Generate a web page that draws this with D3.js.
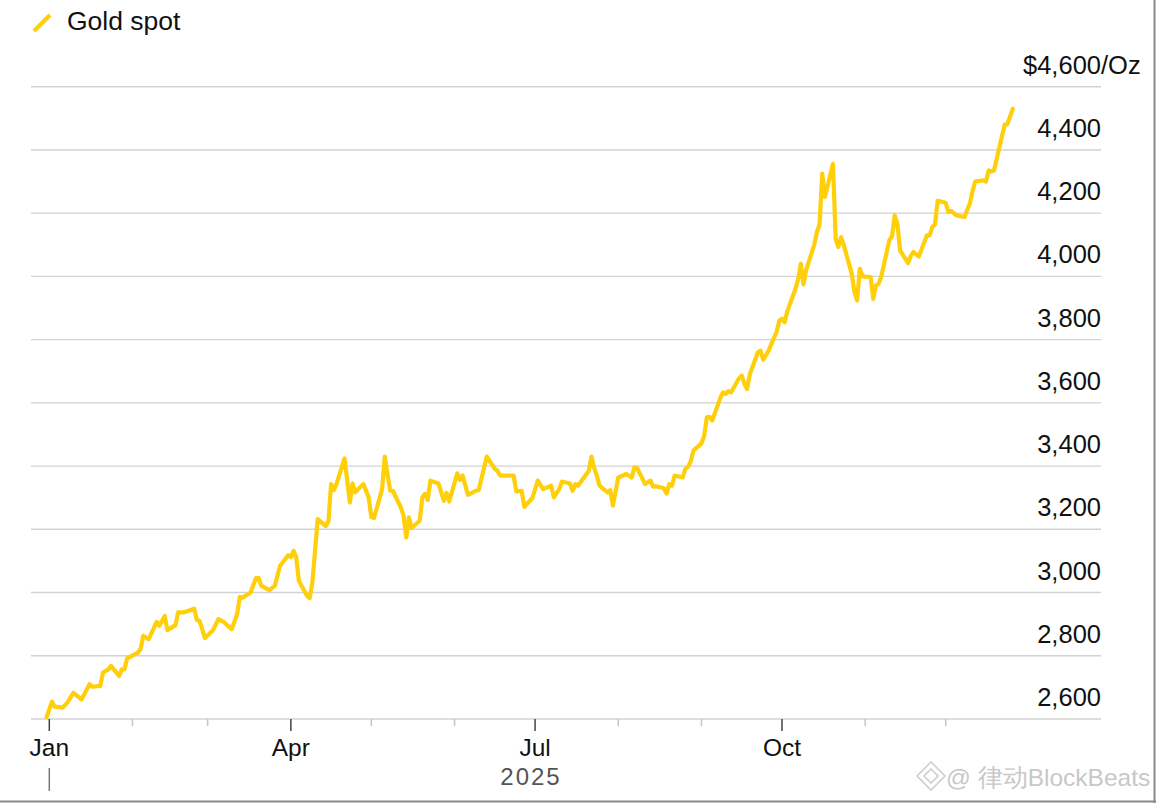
<!DOCTYPE html>
<html><head><meta charset="utf-8">
<script src="https://cdn.jsdelivr.net/npm/d3@7"></script>
<style>
body{margin:0;background:#fff}
svg{display:block}
text{font-family:"Liberation Sans",Arial,Helvetica,sans-serif}
</style>
</head><body>
<svg id="chart" width="1156" height="803"></svg>
<script>
const seriesName = "Gold spot";
const dates = [
"2024-12-31","2025-01-02","2025-01-03","2025-01-06","2025-01-08","2025-01-10","2025-01-13","2025-01-16","2025-01-17","2025-01-20",
"2025-01-21","2025-01-23","2025-01-24","2025-01-27","2025-01-28","2025-01-29","2025-01-30","2025-02-03","2025-02-04","2025-02-05",
"2025-02-07","2025-02-10","2025-02-11","2025-02-13","2025-02-14","2025-02-17","2025-02-18","2025-02-20","2025-02-24","2025-02-25",
"2025-02-26","2025-02-28","2025-03-03","2025-03-05","2025-03-07","2025-03-10","2025-03-12","2025-03-13","2025-03-14","2025-03-17",
"2025-03-19","2025-03-20","2025-03-21","2025-03-24","2025-03-26","2025-03-28","2025-03-31","2025-04-01","2025-04-02","2025-04-03",
"2025-04-04","2025-04-07","2025-04-08","2025-04-09","2025-04-10","2025-04-11","2025-04-14","2025-04-15","2025-04-16","2025-04-17",
"2025-04-18","2025-04-21","2025-04-23","2025-04-24","2025-04-25","2025-04-28","2025-04-30","2025-05-01","2025-05-02","2025-05-05",
"2025-05-06","2025-05-08","2025-05-09","2025-05-12","2025-05-13","2025-05-14","2025-05-15","2025-05-16","2025-05-19","2025-05-20",
"2025-05-21","2025-05-22","2025-05-23","2025-05-26","2025-05-28","2025-05-29","2025-05-30","2025-06-02","2025-06-03","2025-06-04",
"2025-06-06","2025-06-09","2025-06-10","2025-06-13","2025-06-16","2025-06-17","2025-06-18","2025-06-20","2025-06-23","2025-06-24",
"2025-06-26","2025-06-27","2025-06-30","2025-07-02","2025-07-04","2025-07-07","2025-07-08","2025-07-10","2025-07-11","2025-07-14",
"2025-07-15","2025-07-16","2025-07-17","2025-07-21","2025-07-22","2025-07-23","2025-07-24","2025-07-25","2025-07-28","2025-07-29",
"2025-07-30","2025-08-01","2025-08-04","2025-08-06","2025-08-07","2025-08-08","2025-08-11","2025-08-13","2025-08-14","2025-08-15",
"2025-08-18","2025-08-19","2025-08-20","2025-08-21","2025-08-22","2025-08-25","2025-08-26","2025-08-27","2025-08-28","2025-08-29",
"2025-09-01","2025-09-02","2025-09-03","2025-09-04","2025-09-05","2025-09-08","2025-09-09","2025-09-10","2025-09-11","2025-09-12",
"2025-09-15","2025-09-16","2025-09-17","2025-09-18","2025-09-19","2025-09-22","2025-09-23","2025-09-24","2025-09-25","2025-09-26",
"2025-09-29","2025-09-30","2025-10-01","2025-10-02","2025-10-03","2025-10-06","2025-10-07","2025-10-08","2025-10-09","2025-10-10",
"2025-10-13","2025-10-14","2025-10-15","2025-10-16","2025-10-17","2025-10-20","2025-10-21","2025-10-22","2025-10-23","2025-10-24",
"2025-10-27","2025-10-28","2025-10-29","2025-10-30","2025-10-31","2025-11-03","2025-11-04","2025-11-05","2025-11-06","2025-11-07",
"2025-11-10","2025-11-11","2025-11-12","2025-11-13","2025-11-14","2025-11-17","2025-11-18","2025-11-19","2025-11-20","2025-11-21",
"2025-11-24","2025-11-25","2025-11-26","2025-11-27","2025-11-28","2025-12-01","2025-12-02","2025-12-03","2025-12-04","2025-12-05",
"2025-12-08","2025-12-09","2025-12-10","2025-12-11","2025-12-12","2025-12-15","2025-12-16","2025-12-17","2025-12-18","2025-12-19",
"2025-12-22","2025-12-23","2025-12-24","2025-12-26"
];
const prices = [
2606,2655,2639,2636,2655,2683,2662,2710,2702,2705,
2747,2757,2768,2736,2757,2757,2792,2810,2821,2863,
2852,2907,2895,2926,2881,2897,2937,2937,2949,2913,
2910,2856,2881,2916,2907,2884,2933,2986,2984,3000,
3046,3046,3021,3008,3021,3085,3118,3112,3132,3112,
3037,2990,2982,3030,3130,3232,3210,3225,3343,3324,
3343,3424,3285,3345,3317,3343,3301,3238,3236,3327,
3430,3322,3322,3269,3243,3174,3238,3204,3227,3301,
3312,3293,3354,3345,3290,3315,3288,3377,3356,3370,
3309,3322,3324,3430,3391,3385,3370,3370,3370,3320,
3322,3271,3299,3354,3327,3338,3301,3327,3351,3345,
3322,3343,3338,3385,3430,3395,3370,3338,3317,3324,
3275,3364,3375,3364,3396,3394,3343,3354,3335,3336,
3330,3313,3343,3338,3370,3364,3391,3398,3415,3449,
3472,3495,3554,3556,3544,3615,3633,3628,3637,3633,
3678,3686,3660,3644,3690,3760,3765,3737,3750,3765,
3825,3860,3866,3855,3890,3960,3990,4040,3975,4019,
4100,4140,4165,4325,4251,4356,4119,4093,4124,4100,
4008,3950,3924,4024,4000,3998,3929,3971,3977,4000,
4114,4127,4193,4166,4082,4042,4065,4077,4070,4063,
4130,4130,4156,4164,4239,4233,4204,4207,4200,4193,
4188,4210,4230,4270,4300,4304,4300,4335,4332,4335,
4445,4480,4482,4530
];
const yTicks = [2600,2800,3000,3200,3400,3600,3800,4000,4200,4400,4600];
const monthStarts = ["2025-01-01","2025-02-01","2025-03-01","2025-04-01","2025-05-01","2025-06-01",
                     "2025-07-01","2025-08-01","2025-09-01","2025-10-01","2025-11-01","2025-12-01"];
const majorMonths = {"2025-01-01":"Jan","2025-04-01":"Apr","2025-07-01":"Jul","2025-10-01":"Oct"};
const yearLabel = "2025";
const unitPrefix = "$", unitSuffix = "/Oz";
const watermark = "@ 律动BlockBeats";

const parse = d3.utcParse("%Y-%m-%d");
const data = dates.map((d,i)=>({date:parse(d), value:prices[i]}));

const svg = d3.select("#chart");
const leftX = 31, rightX = 1101;
const x = d3.scaleUtc().domain([parse("2025-01-01"), parse("2025-12-01")]).range([49.3, 945.7]);
const y = d3.scaleLinear().domain([2600,4600]).range([719, 86.7]);
const gold = "#ffcf0a";

// gridlines
svg.append("g").selectAll("line").data(yTicks).join("line")
  .attr("x1", leftX).attr("x2", rightX)
  .attr("y1", d=>y(d)).attr("y2", d=>y(d))
  .attr("stroke", "#d2d2d2").attr("stroke-width", 1.4);

// y labels
const fmt = d3.format(",");
const topTick = yTicks[yTicks.length-1];
svg.append("g").selectAll("text").data(yTicks.filter(t=>t!==topTick)).join("text")
  .attr("x", rightX).attr("y", d=>y(d)-13)
  .attr("text-anchor","end").attr("font-size",25.5).attr("fill","#111")
  .text(d=>fmt(d));
svg.append("text").attr("x", rightX).attr("y", y(topTick)-13)
  .attr("text-anchor","end").attr("font-size",25.5).attr("fill","#111")
  .text(unitPrefix + fmt(topTick));
svg.append("text").attr("x", rightX).attr("y", y(topTick)-13)
  .attr("text-anchor","start").attr("font-size",25.5).attr("fill","#111")
  .text(unitSuffix);

// x ticks
svg.append("g").selectAll("line").data(monthStarts).join("line")
  .attr("x1", d=>x(parse(d))).attr("x2", d=>x(parse(d)))
  .attr("y1", y(2600)).attr("y2", d=>majorMonths[d] ? y(2600)+12 : y(2600)+7)
  .attr("stroke", d=>majorMonths[d] ? "#444" : "#c4c4c4")
  .attr("stroke-width", 1.5);
svg.append("g").selectAll("text").data(monthStarts.filter(d=>majorMonths[d])).join("text")
  .attr("x", d=>x(parse(d))).attr("y", 756)
  .attr("text-anchor","middle").attr("font-size",24.5).attr("fill","#111")
  .text(d=>majorMonths[d]);

// year label and marker
svg.append("line").attr("x1", x(parse("2025-01-01"))).attr("x2", x(parse("2025-01-01")))
  .attr("y1", 768).attr("y2", 791).attr("stroke","#777").attr("stroke-width",1.5);
svg.append("text").attr("x", 531).attr("y", 785)
  .attr("text-anchor","middle").attr("font-size",24).attr("fill","#555")
  .attr("letter-spacing","2px").text(yearLabel);

// line
const line = d3.line().x(d=>x(d.date)).y(d=>y(d.value)).curve(d3.curveLinear);
svg.append("path").datum(data).attr("d", line)
  .attr("fill","none").attr("stroke",gold).attr("stroke-width",4.2)
  .attr("stroke-linejoin","round").attr("stroke-linecap","round");

// legend
svg.append("line").attr("x1",34).attr("y1",31).attr("x2",50).attr("y2",15)
  .attr("stroke",gold).attr("stroke-width",4.2);
svg.append("text").attr("x",67).attr("y",30).attr("font-size",26.5).attr("fill","#111").text(seriesName);

// watermark
const wm = svg.append("g").attr("fill","none").attr("stroke","#cfcfcf").attr("stroke-width",1.6);
wm.append("path").attr("d","M931,762 L945,776 L931,790 L917,776 Z");
wm.append("path").attr("d","M931,769 L938,776 L931,783 L924,776 Z");
svg.append("text").attr("x",946).attr("y",786).attr("font-size",24.5)
  .attr("font-family","'Noto Sans CJK SC','Liberation Sans',sans-serif")
  .attr("fill","#c8c8c8").text(watermark);

// frame edges
svg.append("line").attr("x1",0).attr("x2",1156).attr("y1",801.5).attr("y2",801.5).attr("stroke","#8a8a8a").attr("stroke-width",2);
svg.append("line").attr("x1",1154.5).attr("x2",1154.5).attr("y1",0).attr("y2",803).attr("stroke","#8a8a8a").attr("stroke-width",2);
</script>
</body></html>
